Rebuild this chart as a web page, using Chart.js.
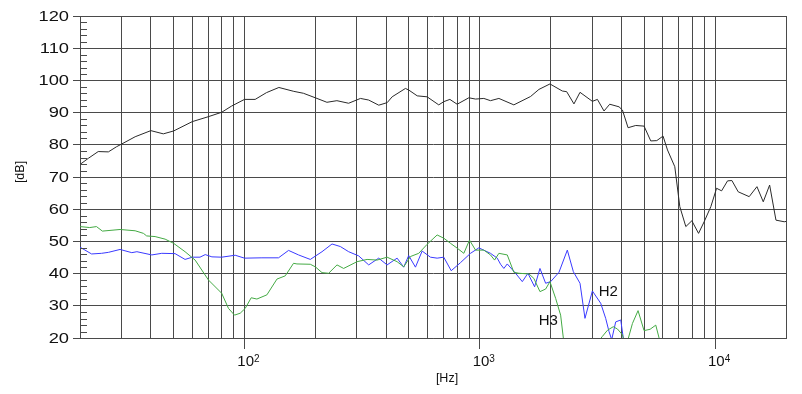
<!DOCTYPE html>
<html lang="en">
<head>
<meta charset="UTF-8">
<title>Distortion</title>
<style>
    html, body { margin: 0; padding: 0; background: #fff; }
    #distChart { display: block; }
</style>
</head>
<body>
<canvas id="distChart" width="802" height="394"></canvas>
<script src="https://cdn.jsdelivr.net/npm/chart.js"></script>
<script>
// fundamental (black)
const fundFreq = [20, 21.7, 23.9, 26.4, 28.6, 30, 34.3, 40, 45.2, 50, 60, 70, 80, 88, 100, 111, 124, 140, 162, 178,
    200, 224, 247, 277, 311, 337, 372, 404, 424, 483, 499, 542, 597, 669, 703, 746, 801, 898, 959, 1040,
    1110, 1205, 1395, 1643, 1783, 1986, 2242, 2339, 2512, 2665, 3008, 3160, 3371, 3564, 3904, 4036, 4265, 4598, 4987, 5325,
    5648, 6006, 6273, 6737, 7076, 7505, 7960, 8500, 8979, 9588, 10140, 10650, 11290, 11780, 12530, 13950, 15050, 16010, 17040, 18130,
    19660, 20000];
const fundDb = [73.9, 75.8, 77.9, 77.8, 79.4, 80.2, 82.5, 84.4, 83.4, 84.3, 87.2, 88.7, 90.1, 92.0, 94.1, 94.1, 96.2, 97.8, 96.6, 96.0,
    94.6, 93.2, 93.7, 92.9, 94.4, 93.9, 92.3, 93.1, 94.9, 97.5, 97.0, 95.2, 94.9, 92.4, 93.4, 94.1, 92.6, 94.6, 94.2, 94.4,
    93.7, 94.4, 92.4, 95.0, 97.2, 98.9, 96.7, 96.5, 92.7, 96.3, 93.5, 94.1, 90.5, 92.6, 91.8, 90.8, 85.3, 86.0, 85.8, 81.2,
    81.3, 82.7, 78.4, 73.2, 60.8, 54.6, 56.4, 52.5, 56.1, 60.8, 66.5, 65.7, 68.8, 68.9, 65.4, 63.9, 67.0, 62.3, 67.5, 56.6,
    56.1, 56.2];

// 2nd harmonic (blue)
const h2Freq = [20, 21.0, 22.4, 24.7, 26.4, 29.6, 33.2, 34.9, 40.4, 44.5, 50.7, 55.9, 60, 64.7, 68.1, 72.7, 80, 91.3, 100, 118.6,
    139.5, 153.9, 169.7, 190.4, 213.5, 235.5, 255.5, 277.1, 305.6, 337.1, 371.7, 403.6, 445.2, 474.9, 498.6, 532.7, 568.7, 616.9, 658.7, 702.7,
    755.8, 827.7, 912.9, 990.2, 1110, 1186, 1225, 1265, 1308, 1419, 1515, 1601, 1709, 1801, 1904, 2000, 2169, 2354, 2497, 2665,
    2798, 3008, 3263, 3426, 3540, 3634, 3779, 3970, 4088, 4378];
const h2Db = [48.2, 47.3, 46.1, 46.3, 46.6, 47.5, 46.5, 46.8, 45.8, 46.3, 46.2, 44.4, 45.1, 45.1, 45.9, 45.2, 45.1, 45.7, 44.8, 44.9,
    44.9, 47.2, 45.8, 44.4, 46.8, 49.2, 48.4, 46.8, 45.5, 42.7, 44.8, 42.7, 44.8, 42.0, 45.6, 42.0, 47.0, 45.1, 44.8, 45.1,
    40.9, 43.4, 46.3, 48.0, 46.3, 44.8, 42.9, 41.6, 43.0, 40.1, 37.5, 40.1, 35.9, 41.6, 37.0, 37.5, 40.4, 47.3, 40.6, 37.0,
    26.1, 34.6, 30.8, 26.1, 22.0, 19.5, 25.0, 25.6, 19.0, 14.0];

// 3rd harmonic (green)
const h3Freq = [20, 22.0, 23.5, 24.9, 29.6, 34.3, 37.2, 38.4, 41.7, 46.0, 50, 55.9, 61.7, 70.3, 80, 85.5, 90.7, 95.9, 100.7, 106.8,
    112.9, 124.5, 137.4, 149, 161.6, 167.1, 190.4, 200, 213.5, 227.8, 247.3, 263.8, 300.8, 331.8, 366, 403.6, 445.2, 474.9, 507.1, 550,
    597.3, 658.7, 702.7, 750.7, 801.4, 855, 904, 958.9, 1040, 1110, 1155, 1205, 1308, 1395, 1466, 1617, 1697, 1801, 1904, 1986,
    2100, 2205, 2264, 2683, 3318, 3485, 3689, 3843, 4036, 4169, 4451, 4703, 4987, 5289, 5593, 5777, 6478];
const h3Db = [54.6, 54.3, 54.6, 53.2, 53.7, 53.3, 52.5, 51.7, 51.5, 50.7, 49.4, 46.8, 44.2, 38.0, 33.9, 29.2, 27.1, 27.7, 29.2, 32.5,
    32.1, 33.4, 38.3, 39.3, 43.2, 43.0, 42.9, 42.1, 40.3, 40.1, 42.7, 41.6, 43.7, 44.4, 44.2, 45.1, 43.7, 42.1, 45.3, 46.3,
    49.1, 52.0, 51.0, 49.4, 47.9, 46.3, 50.4, 47.3, 47.3, 45.8, 44.2, 46.3, 45.8, 40.4, 40.1, 39.9, 38.5, 34.4, 35.2, 37.5,
    32.3, 27.1, 20.0, 12.0, 20.5, 22.4, 23.5, 22.8, 21.0, 17.0, 24.5, 28.5, 22.3, 22.7, 24.0, 20.0, 12.0];

// axes
const yTicks = [20, 30, 40, 50, 60, 70, 80, 90, 100, 110, 120];
const xGrid = [20, 30, 40, 50, 60, 70, 80, 90, 100, 200, 300, 400, 500, 600, 700, 800, 900,
    1000, 2000, 3000, 4000, 5000, 6000, 7000, 8000, 9000, 10000, 20000];
const xMajor = [100, 1000, 10000];
const xMajorExp = ['2', '3', '4'];
const curveLabels = ['H2', 'H3'];
const curveLabelFreq = [3200, 1780];
const curveLabelDb = [34.3, 25.4];

const GRID = '#4a4a4a';
const FONT = '"Liberation Sans", Arial, sans-serif';

function pts(fs, ds) {
    return fs.map((f, i) => ({ x: f, y: ds[i] }));
}

// draws axis texts, minor ticks and curve labels
const textPlugin = {
    id: 'textPlugin',
    afterDraw(chart) {
        const ctx = chart.ctx;
        const xs = chart.scales.x, ys = chart.scales.y;
        const area = chart.chartArea;
        ctx.save();

        // minor ticks on the left edge, every 2 dB
        ctx.strokeStyle = GRID;
        ctx.lineWidth = 1;
        for (let v = yTicks[0]; v < yTicks[yTicks.length - 1]; v += 2) {
            if (v % 10 === 0) continue;
            const y = Math.round(ys.getPixelForValue(v)) + 0.5;
            ctx.beginPath();
            ctx.moveTo(area.left, y);
            ctx.lineTo(area.left + 7, y);
            ctx.stroke();
        }

        ctx.fillStyle = '#111';

        // y labels (stretched a bit like the original)
        ctx.font = '15px ' + FONT;
        ctx.textAlign = 'right';
        ctx.textBaseline = 'middle';
        yTicks.forEach(v => {
            ctx.save();
            ctx.translate(69, ys.getPixelForValue(v) + 0.5);
            ctx.scale(1.22, 1);
            ctx.fillText(String(v), 0, 0);
            ctx.restore();
        });

        // x labels 10^n
        ctx.textBaseline = 'alphabetic';
        xMajor.forEach((v, i) => {
            const x = xs.getPixelForValue(v);
            ctx.font = '15px ' + FONT;
            ctx.textAlign = 'right';
            ctx.fillText('10', x + 9.5, 366);
            ctx.font = '10px ' + FONT;
            ctx.textAlign = 'left';
            ctx.fillText(xMajorExp[i], x + 9.5, 362);
        });

        // axis titles
        ctx.font = '12.5px ' + FONT;
        ctx.textAlign = 'center';
        ctx.textBaseline = 'middle';
        ctx.fillText('[Hz]', 447, 379);
        ctx.save();
        ctx.translate(21, 172);
        ctx.rotate(-Math.PI / 2);
        ctx.fillText('[dB]', 0, 0);
        ctx.restore();

        // curve labels
        ctx.font = '15px ' + FONT;
        ctx.textAlign = 'left';
        curveLabels.forEach((t, i) => {
            ctx.fillText(t, xs.getPixelForValue(curveLabelFreq[i]), ys.getPixelForValue(curveLabelDb[i]));
        });

        ctx.restore();
    }
};

new Chart(document.getElementById('distChart'), {
    type: 'scatter',
    data: {
        datasets: [
            { label: 'H3', data: pts(h3Freq, h3Db), showLine: true, borderColor: '#44aa44', borderWidth: 1, pointRadius: 0 },
            { label: 'H2', data: pts(h2Freq, h2Db), showLine: true, borderColor: '#3a3aff', borderWidth: 1, pointRadius: 0 },
            { label: 'SPL', data: pts(fundFreq, fundDb), showLine: true, borderColor: '#2a2a2a', borderWidth: 1, pointRadius: 0 }
        ]
    },
    options: {
        responsive: false,
        animation: false,
        devicePixelRatio: 1,
        layout: { padding: { left: 73, right: 16, top: 16, bottom: 45 } },
        plugins: {
            legend: { display: false },
            tooltip: { enabled: false }
        },
        scales: {
            x: {
                type: 'logarithmic',
                min: 20,
                max: 20000,
                afterBuildTicks: s => { s.ticks = xGrid.map(v => ({ value: v })); },
                ticks: { display: false },
                grid: {
                    color: GRID,
                    lineWidth: 1,
                    tickLength: 11,
                    tickColor: c => (c.tick && xMajor.includes(c.tick.value)) ? GRID : 'rgba(0,0,0,0)'
                },
                border: { color: GRID }
            },
            y: {
                min: 20,
                max: 120,
                afterBuildTicks: s => { s.ticks = yTicks.map(v => ({ value: v })); },
                ticks: { display: false },
                grid: { color: GRID, lineWidth: 1, tickLength: 7, tickColor: GRID },
                border: { color: GRID }
            }
        }
    },
    plugins: [textPlugin]
});
</script>
</body>
</html>
